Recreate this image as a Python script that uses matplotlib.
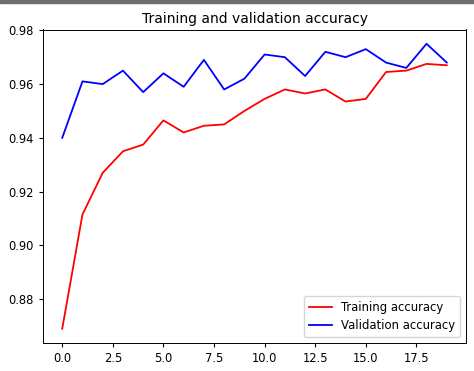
import matplotlib
matplotlib.use("Agg")
from matplotlib import pyplot as plt
from matplotlib.patches import Rectangle

# Data
epochs = list(range(20))
train_acc = [0.869, 0.9115, 0.927, 0.935, 0.9375, 0.9465, 0.942, 0.9445, 0.945, 0.950,
             0.9545, 0.958, 0.9565, 0.958, 0.9535, 0.9545, 0.9645, 0.965, 0.9675, 0.967]
val_acc = [0.940, 0.961, 0.960, 0.965, 0.957, 0.964, 0.959, 0.969, 0.958, 0.962,
           0.971, 0.970, 0.963, 0.972, 0.970, 0.973, 0.968, 0.966, 0.975, 0.968]

# the screenshot is a scaled-down figure, so everything is a bit smaller
plt.rcParams['xtick.labelsize'] = 8.3
plt.rcParams['ytick.labelsize'] = 8.3
plt.rcParams['xtick.major.size'] = 3
plt.rcParams['ytick.major.size'] = 3
plt.rcParams['axes.linewidth'] = 0.7

fig = plt.figure(figsize=(4.74, 3.71), dpi=100)
ax = fig.add_axes([43 / 474, 1 - 343 / 371, 423 / 474, 313.5 / 371])

ax.plot(epochs, train_acc, 'r', lw=1.3, label='Training accuracy')
ax.plot(epochs, val_acc, 'b', lw=1.3, label='Validation accuracy')
ax.set_title('Training and validation accuracy', fontsize=10, pad=5)
ax.legend(loc='lower right', fontsize=8.4)

# grey strip from the screenshot border
fig.patches.append(Rectangle((0, 1 - 3 / 371), 1, 3 / 371, transform=fig.transFigure,
                             color='#6e6e6e', zorder=10))

fig.savefig('out.png', dpi=100)
